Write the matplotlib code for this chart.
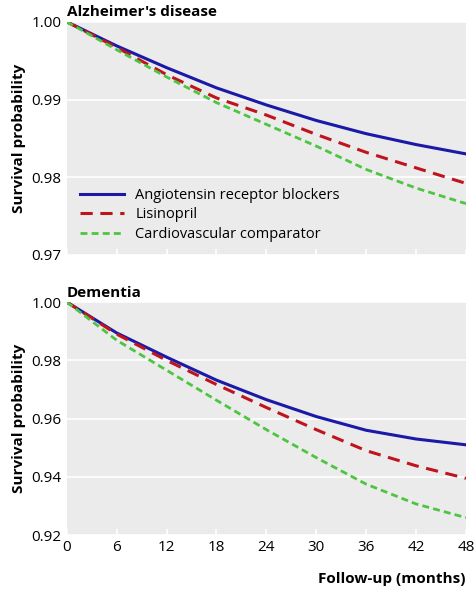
import matplotlib
matplotlib.use("Agg")
import matplotlib.pyplot as plt

plt.rcParams["font.family"] = ["Open Sans", "DejaVu Sans"]

months = [0, 6, 12, 18, 24, 30, 36, 42, 48]
labels = ["Angiotensin receptor blockers", "Lisinopril", "Cardiovascular comparator"]

alz_arb = [1.0, 0.9969, 0.9941, 0.9915, 0.9893, 0.9873, 0.9856, 0.9842, 0.9830]
alz_lis = [1.0, 0.9967, 0.9932, 0.9902, 0.9880, 0.9855, 0.9832, 0.9812, 0.9792]
alz_cmp = [1.0, 0.9964, 0.9929, 0.9896, 0.9868, 0.9840, 0.9810, 0.9786, 0.9766]

dem_arb = [1.0, 0.9894, 0.9811, 0.9732, 0.9665, 0.9607, 0.9560, 0.9530, 0.9510]
dem_lis = [1.0, 0.9890, 0.9800, 0.9717, 0.9638, 0.9562, 0.9490, 0.9438, 0.9395]
dem_cmp = [1.0, 0.9869, 0.9766, 0.9663, 0.9562, 0.9466, 0.9375, 0.9307, 0.9260]

styles = [
    dict(color="#1a1aa6", linestyle="-", linewidth=2.2),
    dict(color="#c0141c", linestyle=(0, (4, 2.5)), linewidth=2.2),
    dict(color="#4cc640", linestyle=(0, (2.5, 1.5)), linewidth=2.0),
]

fig = plt.figure(figsize=(4.74, 5.9), dpi=100)
ax1 = fig.add_axes([0.141, 0.568, 0.842, 0.395])
ax2 = fig.add_axes([0.141, 0.093, 0.842, 0.395])


def style_ax(ax, yticks, title):
    ax.set_facecolor("#ebebeb")
    for s in ax.spines.values():
        s.set_visible(False)
    ax.set_xlim(0, 48)
    ax.set_ylim(yticks[0], yticks[-1])
    ax.set_yticks(yticks)
    ax.set_yticklabels([f"{v:.2f}" for v in yticks])
    ax.set_xticks(months)
    ax.grid(axis="y", color="white", linewidth=1.2)
    ax.set_axisbelow(True)
    ax.tick_params(axis="y", length=0, labelsize=11, pad=4)
    ax.tick_params(axis="x", direction="in", color="white", length=4, width=1.2,
                   labelsize=11)
    ax.set_ylabel("Survival probability", fontweight="bold", fontsize=11)
    ax.set_title(title, loc="left", fontweight="bold", fontsize=11, pad=4)


style_ax(ax1, [0.97, 0.98, 0.99, 1.00], "Alzheimer's disease")
ax1.tick_params(axis="x", labelbottom=False)
for ys, st, lab in zip([alz_arb, alz_lis, alz_cmp], styles, labels):
    ax1.plot(months, ys, label=lab, **st)
ax1.legend(loc="lower left", frameon=False, fontsize=10.5, handlelength=3,
           borderaxespad=0.5, labelspacing=0.3)

style_ax(ax2, [0.92, 0.94, 0.96, 0.98, 1.00], "Dementia")
for ys, st in zip([dem_arb, dem_lis, dem_cmp], styles):
    ax2.plot(months, ys, **st)
ax2.set_xlabel("Follow-up (months)", fontweight="bold", fontsize=11, loc="right",
               labelpad=12)

fig.savefig("out.png", dpi=100)
